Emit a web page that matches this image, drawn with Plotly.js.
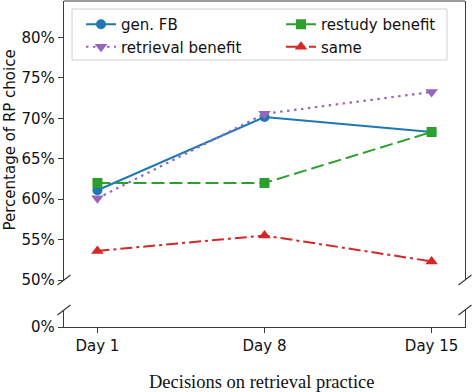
<!DOCTYPE html>
<html>
<head>
<meta charset="utf-8">
<script src="https://cdn.plot.ly/plotly-3.0.1.min.js"></script>
<style>html,body{margin:0;padding:0;background:#fff;}#chart{width:474px;height:392px;}</style>
</head>
<body>
<div id="chart"></div>
<script>
const days = ['Day 1', 'Day 8', 'Day 15'];
const genFB = [61.1, 70.15, 68.3];
const retrievalBenefit = [60.1, 70.55, 73.25];
const restudyBenefit = [62.0, 62.0, 68.3];
const same = [53.6, 55.5, 52.3];
const upperTicks = [50, 55, 60, 65, 70, 75, 80];
const upperTickText = ['50%', '55%', '60%', '65%', '70%', '75%', '80%'];
const lowerTicks = [0];
const lowerTickText = ['0%'];

const FONT = 'DejaVu Sans, sans-serif';
const FS = 15;
const W = 474, H = 392;
const L = 64, R = 9, T = 1, B = 65;
const plotW = W - L - R, plotH = H - T - B;
const upperBottomPx = 280, lowerTopPx = 310, bottomPx = H - B;

const px2x = px => (px - L) / plotW;
const px2y = py => (bottomPx - py) / plotH;

const traces = [
  {name: 'gen. FB', x: days, y: genFB, legend: 'legend', mode: 'lines+markers',
   line: {color: '#1f77b4', width: 2}, marker: {symbol: 'circle', size: 10, color: '#1f77b4'}},
  {name: 'retrieval benefit', x: days, y: retrievalBenefit, legend: 'legend', mode: 'lines+markers',
   line: {color: '#9467bd', width: 2.2, dash: '2.5px,4.5px'}, marker: {symbol: 'triangle-down', size: 11, color: '#9467bd'}},
  {name: 'restudy benefit', x: days, y: restudyBenefit, legend: 'legend2', mode: 'lines+markers',
   line: {color: '#2ca02c', width: 2, dash: '13px,5px'}, marker: {symbol: 'square', size: 10, color: '#2ca02c'}},
  {name: 'same', x: days, y: same, legend: 'legend2', mode: 'lines+markers',
   line: {color: '#d62728', width: 2, dash: '12px,4px,3px,4px'}, marker: {symbol: 'triangle-up', size: 11, color: '#d62728'}}
].map(t => Object.assign(t, {xaxis: 'x', yaxis: 'y', cliponaxis: false}));

// empty trace to create the lower (broken) panel
traces.push({x: days, y: [null, null, null], xaxis: 'x', yaxis: 'y2', showlegend: false, hoverinfo: 'skip', mode: 'lines'});

const spineColor = '#3a3a3a';
const tickFont = {family: FONT, size: FS, color: '#111'};

function brk(xa, yref, ya) {
  return {type: 'line', xref: 'x domain', yref: yref, layer: 'above',
    xsizemode: 'pixel', xanchor: xa, x0: -6.5, x1: 6.5,
    ysizemode: 'pixel', yanchor: ya, y0: -5, y1: 5,
    line: {color: spineColor, width: 1.2}};
}

const legendBase = {orientation: 'v', xanchor: 'left', yanchor: 'top', bgcolor: 'rgba(0,0,0,0)',
  borderwidth: 0, font: {family: FONT, size: FS, color: '#111'}, tracegroupgap: 0};

const layout = {
  width: W, height: H,
  margin: {l: L, r: R, t: T, b: B},
  paper_bgcolor: '#fff', plot_bgcolor: '#fff',
  font: {family: FONT, size: FS, color: '#111'},
  showlegend: true,
  legend: Object.assign({}, legendBase, {x: px2x(81), y: px2y(8)}),
  legend2: Object.assign({}, legendBase, {x: px2x(281), y: px2y(8)}),
  xaxis: {
    anchor: 'y2', type: 'category', range: [-0.2, 2.2], showgrid: false, zeroline: false,
    showline: true, linecolor: spineColor, linewidth: 1.2,
    ticks: 'outside', ticklen: 5, tickcolor: spineColor, tickfont: tickFont
  },
  yaxis: {
    domain: [px2y(upperBottomPx), 1], anchor: 'x', range: [50, 84.5],
    tickmode: 'array', tickvals: upperTicks, ticktext: upperTickText, showgrid: false, zeroline: false,
    showline: true, mirror: true, linecolor: spineColor, linewidth: 1.2,
    ticks: 'outside', ticklen: 5, tickcolor: spineColor, tickfont: tickFont
  },
  yaxis2: {
    domain: [0, px2y(lowerTopPx)], anchor: 'x', range: [0, 2],
    tickmode: 'array', tickvals: lowerTicks, ticktext: lowerTickText, showgrid: false, zeroline: false,
    showline: true, mirror: true, linecolor: spineColor, linewidth: 1.2,
    ticks: 'outside', ticklen: 5, tickcolor: spineColor, tickfont: tickFont
  },
  shapes: [
    {type: 'line', xref: 'x domain', yref: 'y domain', x0: 0, x1: 1, y0: 1, y1: 1, line: {color: spineColor, width: 1.2}},
    brk(0, 'y domain', 0), brk(1, 'y domain', 0),
    brk(0, 'y2 domain', 1), brk(1, 'y2 domain', 1),
    {type: 'rect', xref: 'paper', yref: 'paper', layer: 'above',
     x0: px2x(72), x1: px2x(447), y0: px2y(60), y1: px2y(9),
     fillcolor: 'rgba(255,255,255,0.8)', line: {color: '#d0d0d0', width: 1}}
  ],
  annotations: [
    {text: 'Percentage of RP choice', xref: 'paper', yref: 'y domain', x: 0, y: 0.5,
     xanchor: 'center', yanchor: 'middle', xshift: 9 - L, textangle: -90, showarrow: false,
     font: {family: FONT, size: FS, color: '#111'}},
    {text: 'Decisions on retrieval practice', xref: 'paper', yref: 'paper', x: px2x(262), y: 0,
     xanchor: 'center', yanchor: 'middle', yshift: -(382 - bottomPx), showarrow: false,
     font: {family: 'Liberation Serif, Times New Roman, serif', size: 18.5, color: '#111'}}
  ]
};

Plotly.newPlot('chart', traces, layout, {displayModeBar: false, staticPlot: true});
</script>
</body>
</html>
